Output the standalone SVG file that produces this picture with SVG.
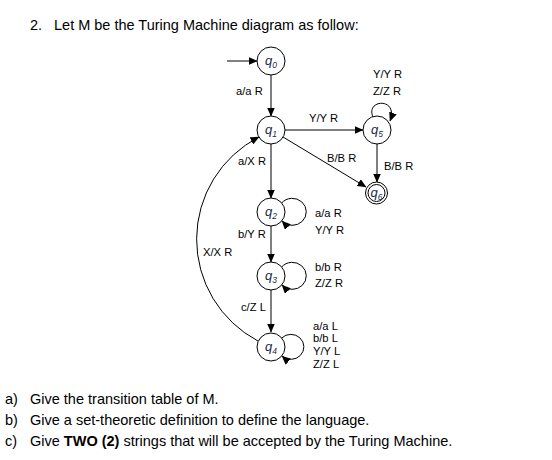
<svg xmlns="http://www.w3.org/2000/svg" width="552" height="460" viewBox="0 0 552 460">
<defs>
<marker id="ah" markerWidth="9" markerHeight="8" refX="8.5" refY="4" orient="auto" markerUnits="userSpaceOnUse">
<path d="M0,0 L9,4 L0,8 Z" fill="#000"/>
</marker>
</defs>
<style>
.body{font-family:"Liberation Sans",Arial,sans-serif;font-size:14.5px;fill:#000}
.lbl{font-family:"Liberation Sans",Arial,sans-serif;font-size:11.2px;fill:#000}
.node{fill:#fff;stroke:#000;stroke-width:1}
.q{font-family:"Liberation Sans",Arial,sans-serif;font-style:italic;font-size:13px;fill:#1c2a4a}
.sub{font-size:8.5px}
.edge{fill:none;stroke:#000;stroke-width:1;marker-end:url(#ah)}
</style>
<rect width="552" height="460" fill="#fff"/>
<text class="body" x="30" y="30">2.</text>
<text class="body" x="54" y="30">Let M be the Turing Machine diagram as follow:</text>

<g id="connectors">
<path class="edge" d="M227,61 L257,61"/>
<path class="edge" d="M271,75 L271,116"/>
<path class="edge" d="M285,130 L363,130"/>
<path class="edge" d="M283,137 L366,187"/>
<path class="edge" d="M377,144 L377,182"/>
<path class="edge" d="M271,144 L271,198"/>
<path class="edge" d="M271,226 L271,262"/>
<path class="edge" d="M271,290 L271,332"/>
<path class="edge" d="M258,341 A115,115 0 0,1 259,137"/>
<path class="edge" d="M373,117 C365,99 399,97 390,121"/>
<path class="edge" d="M281.7,203 A14,13.5 0 1,1 282,221"/>
<path class="edge" d="M281.7,267 A14,13.5 0 1,1 282,285"/>
<path class="edge" d="M281.7,338 A13,12.5 0 1,1 282,356"/>
</g>

<g id="labels">
<text class="lbl" x="236" y="95">a/a R</text>
<text class="lbl" x="309" y="122">Y/Y R</text>
<text class="lbl" x="373" y="78">Y/Y R</text>
<text class="lbl" x="373" y="95">Z/Z R</text>
<text class="lbl" x="238" y="165">a/X R</text>
<text class="lbl" x="327" y="162">B/B R</text>
<text class="lbl" x="384" y="170">B/B R</text>
<text class="lbl" x="315" y="217">a/a R</text>
<text class="lbl" x="315" y="234">Y/Y R</text>
<text class="lbl" x="238" y="238">b/Y R</text>
<text class="lbl" x="203" y="256">X/X R</text>
<text class="lbl" x="315" y="271">b/b R</text>
<text class="lbl" x="315" y="287">Z/Z R</text>
<text class="lbl" x="241" y="311">c/Z L</text>
<text class="lbl" x="313" y="330">a/a L</text>
<text class="lbl" x="313" y="342">b/b L</text>
<text class="lbl" x="313" y="355">Y/Y L</text>
<text class="lbl" x="313" y="368">Z/Z L</text>
</g>

<g id="q0"><circle class="node" cx="271" cy="61" r="14"/><text class="q" x="271" y="65" text-anchor="middle">q<tspan class="sub" dy="3">0</tspan></text></g>
<g id="q1"><circle class="node" cx="271" cy="130" r="14"/><text class="q" x="271" y="134" text-anchor="middle">q<tspan class="sub" dy="3">1</tspan></text></g>
<g id="q5"><circle class="node" cx="377" cy="130" r="14"/><text class="q" x="377" y="134" text-anchor="middle">q<tspan class="sub" dy="3">5</tspan></text></g>
<g id="q6"><circle class="node" cx="376.5" cy="193" r="11"/><circle class="node" cx="376.5" cy="193" r="8.5"/><text class="q" x="376.5" y="197" text-anchor="middle">q<tspan class="sub" dy="3">6</tspan></text></g>
<g id="q2"><circle class="node" cx="271" cy="212" r="14"/><text class="q" x="271" y="216" text-anchor="middle">q<tspan class="sub" dy="3">2</tspan></text></g>
<g id="q3"><circle class="node" cx="271" cy="276" r="14"/><text class="q" x="271" y="280" text-anchor="middle">q<tspan class="sub" dy="3">3</tspan></text></g>
<g id="q4"><circle class="node" cx="271" cy="347" r="14"/><text class="q" x="271" y="351" text-anchor="middle">q<tspan class="sub" dy="3">4</tspan></text></g>

<text class="body" x="5" y="404">a)</text>
<text class="body" x="30" y="404">Give the transition table of M.</text>
<text class="body" x="5" y="425">b)</text>
<text class="body" x="30" y="425">Give a set-theoretic definition to define the language.</text>
<text class="body" x="5" y="446">c)</text>
<text class="body" x="30" y="446">Give <tspan font-weight="bold">TWO (2)</tspan> strings that will be accepted by the Turing Machine.</text>
</svg>
